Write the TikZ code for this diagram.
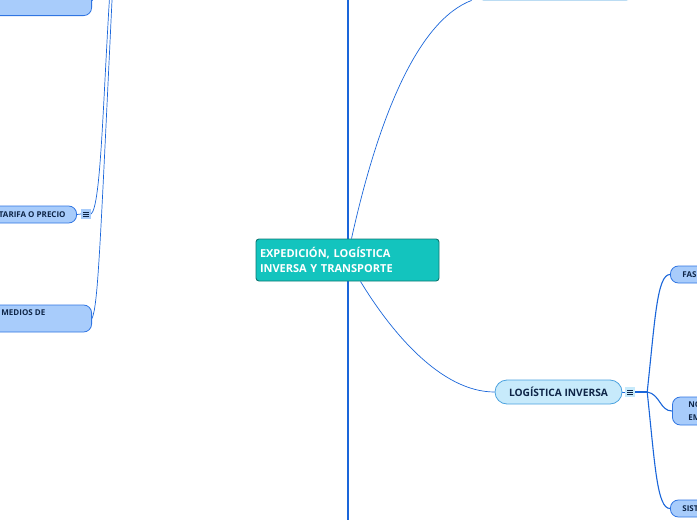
\documentclass[tikz,border=0pt]{standalone}
\usepackage{fontspec}
\setmainfont{Open Sans}
\usetikzlibrary{positioning, backgrounds}

\definecolor{mainteal}{HTML}{13C4BE}
\definecolor{tealedge}{HTML}{0F7873}
\definecolor{linkblue}{HTML}{1A66DA}
\definecolor{lvonefill}{HTML}{C7EAFB}
\definecolor{lvoneedge}{HTML}{4BA2DF}
\definecolor{lvtwofill}{HTML}{A8CCFB}
\definecolor{lvtwoedge}{HTML}{3075E2}
\definecolor{navytext}{HTML}{0E2547}

\tikzset{
    mainbox/.style={draw=tealedge, fill=mainteal, rounded corners=3pt, line width=0.9pt,
        text=white, font=\bfseries\fontsize{11}{15}\selectfont, align=left,
        minimum width=183pt, minimum height=42pt, text width=175pt, inner xsep=4pt},
    levelone/.style={draw=lvoneedge, fill=lvonefill, rounded corners=12pt, line width=0.8pt,
        text=navytext, font=\bfseries\fontsize{10.2}{12}\selectfont,
        minimum width=127pt, minimum height=24pt},
    leveltwo/.style={draw=lvtwoedge, fill=lvtwofill, rounded corners=8pt, line width=0.8pt,
        text=navytext, font=\bfseries\fontsize{8}{13}\selectfont, align=left,
        minimum height=17pt, inner xsep=10pt},
    foldicon/.style={fill=#1, minimum width=10pt, minimum height=10pt, inner sep=0pt},
    iconline/.style={draw=navytext, line width=0.5pt},
    link/.style={draw=linkblue, line width=1.1pt},
    thinlink/.style={draw=linkblue, line width=0.7pt}
}

\begin{document}
\begin{tikzpicture}[x=1pt, y=-1pt]
    \clip (0,0) rectangle (697,520);
    \useasboundingbox (0,0) rectangle (697,520);

    \coordinate (topend) at (348,-5);
    \coordinate (bottomend) at (348,525);
    \coordinate (leftparenta) at (110,-10);
    \coordinate (leftparentb) at (112.5,-10);
    \coordinate (leftcorner) at (116,-60);

    % central and first level
    \node[mainbox] (centre) at (347.5,260) {EXPEDICIÓN, LOGÍSTICA\\INVERSA Y TRANSPORTE};
    \node[levelone, minimum width=166pt] (topbranch) at (555,-12) {};
    \node[levelone] (loginv) at (558.5,392) {LOGÍSTICA INVERSA};
    \node[foldicon=lvonefill] (loginvfold) at (630,392) {};

    % right second level
    \node[leveltwo, anchor=west, minimum width=60pt, text width=40pt, inner xsep=12pt] (fases) at (670,274.5) {FAS};
    \node[leveltwo, anchor=west, minimum width=60pt, minimum height=28pt, text width=40pt, inner xsep=16pt] (normas) at (672,411) {NO\\EM};
    \node[leveltwo, anchor=west, minimum width=60pt, text width=40pt, inner xsep=12pt] (sistemas) at (670,508.5) {SIST};

    % left second level
    \node[leveltwo, anchor=south east, minimum width=140pt, minimum height=30pt] (topleft) at (92,16) {};
    \node[leveltwo, anchor=east, inner xsep=11pt] (tarifa) at (77,214.5) {TARIFA O PRECIO};
    \node[foldicon=lvtwofill] (tarifafold) at (86,214) {};
    \node[leveltwo, anchor=east, minimum width=140pt, minimum height=27pt] (medios) at (92,318.5) {};
    \node[font=\bfseries\fontsize{8}{10}\selectfont, text=navytext, anchor=east, inner sep=0pt] (mediostext) at (45.5,313) {MEDIOS DE};

    \foreach \fold in {loginvfold, tarifafold}
        \foreach \dy in {-2.2,0,2.2}
            \draw[iconline] ([xshift=-2.6pt, yshift=\dy pt]\fold.center) -- ++(5.2,0);

    \begin{scope}[on background layer]
        \draw[link] (topend) -- (bottomend);
        \draw[thinlink] ([xshift=4pt]centre.north) .. controls (380,110) and (420,20) .. (topbranch.south west);
        \draw[thinlink] ([xshift=13pt]centre.south) .. controls (390,330) and (440,392) .. (loginv.west);

        \draw[thinlink] (loginv.east) -- (loginvfold.west);
        \draw[link] (loginvfold.east) -- ++(12,0) coordinate (junction);
        \draw[link] (junction) .. controls (655,320) and (657,274.5) .. (fases.west);
        \draw[link] (junction) .. controls (660,394) and (660,411) .. (normas.west);
        \draw[link] (junction) .. controls (655,465) and (657,508.5) .. (sistemas.west);

        \draw[thinlink] (topleft.east) .. controls +(6,-6) and +(0,20) .. (leftcorner);
        \draw[thinlink] (tarifa.east) -- (tarifafold.west);
        \draw[thinlink] (tarifafold.east) .. controls (101,205) and (103,100) .. (leftparenta);
        \draw[thinlink] (medios.east) .. controls (98,305) and (100,250) .. (leftparentb);
    \end{scope}
\end{tikzpicture}
\end{document}
